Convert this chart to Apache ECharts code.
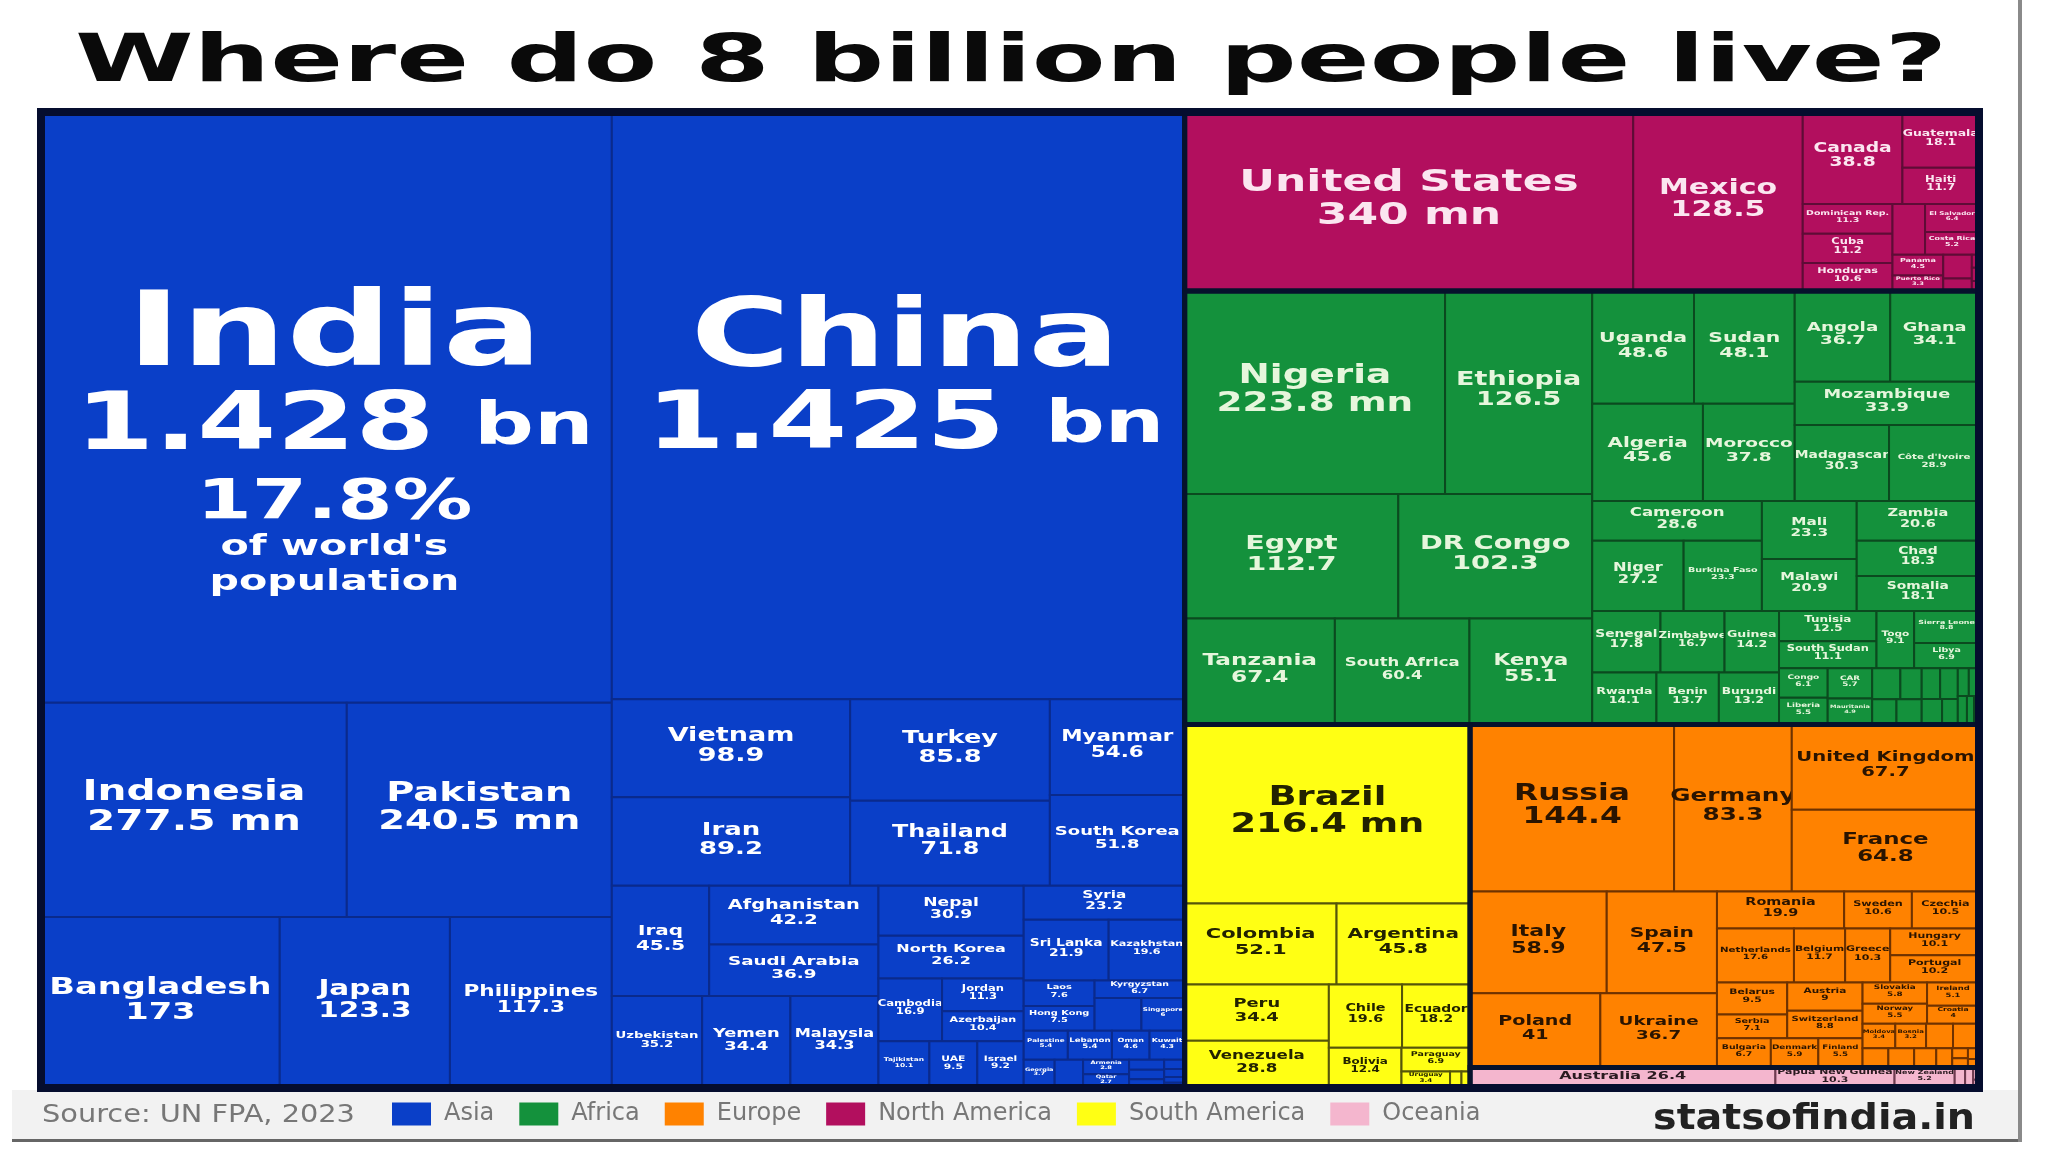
<!DOCTYPE html>
<html lang="en">
<head>
<meta charset="UTF-8">
<title>Where do 8 billion people live?</title>
<script src="https://cdn.jsdelivr.net/npm/echarts@6/dist/echarts.min.js"></script>
<style>
  html, body { margin: 0; background: #fff; }
  #chart { width: 2048px; height: 1152px; }
</style>
</head>
<body>
<div id="chart"></div>
<script>
// population in millions, nested by how the cells are cut: ['rows'|'cols', ...children]
const asia = ['cols',
  ['rows', ['India', 1428],
    ['cols', ['Indonesia', 277.5], ['Pakistan', 240.5]],
    ['cols', ['Bangladesh', 173], ['Japan', 123.3], ['Philippines', 117.3]]],
  ['rows', ['China', 1425],
    ['cols',
      ['rows', ['Vietnam', 98.9], ['Iran', 89.2]],
      ['rows', ['Turkey', 85.8], ['Thailand', 71.8]],
      ['rows', ['Myanmar', 54.6], ['South Korea', 51.8]]],
    ['cols',
      ['rows',
        ['cols', ['Iraq', 45.5], ['rows', ['Afghanistan', 42.2], ['Saudi Arabia', 36.9]]],
        ['cols', ['Uzbekistan', 35.2], ['Yemen', 34.4], ['Malaysia', 34.3]]],
      ['rows', ['Nepal', 30.9], ['North Korea', 26.2],
        ['cols', ['Cambodia', 16.9], ['rows', ['Jordan', 11.3], ['Azerbaijan', 10.4]]],
        ['cols', ['Tajikistan', 10.1], ['UAE', 9.5], ['Israel', 9.2]]],
      ['rows', ['Syria', 23.2],
        ['cols', ['Sri Lanka', 21.9], ['Kazakhstan', 19.6]],
        ['cols',
          ['rows', ['Laos', 7.6], ['Hong Kong', 7.5]],
          ['rows', ['Kyrgyzstan', 6.7], ['cols', ['Turkmenistan', 6.5], ['Singapore', 6]]]],
        ['cols', ['Palestine', 5.4], ['Lebanon', 5.4], ['Oman', 4.6], ['Kuwait', 4.3]],
        ['cols', ['Georgia', 3.7], ['Mongolia', 3.4],
          ['rows', ['Armenia', 2.8], ['Qatar', 2.7]],
          ['rows', ['Bahrain', 1.5], ['Timor-Leste', 1.4], ['Cyprus', 1.3]],
          ['rows', ['Bhutan', 0.8], ['Macao', 0.7], ['Maldives', 0.5], ['Brunei', 0.45]]]]]]]
;

const northAmerica = ['cols', ['United States', 340], ['Mexico', 128.5],
  ['rows',
    ['cols', ['Canada', 38.8], ['rows', ['Guatemala', 18.1], ['Haiti', 11.7]]],
    ['cols',
      ['rows', ['Dominican Rep.', 11.3], ['Cuba', 11.2], ['Honduras', 10.6]],
      ['rows',
        ['cols', ['Nicaragua', 7], ['rows', ['El Salvador', 6.4], ['Costa Rica', 5.2]]],
        ['cols', ['rows', ['Panama', 4.5], ['Puerto Rico', 3.3]],
          ['rows', ['Jamaica', 2.9], ['Trinidad', 1.5]],
          ['rows', ['Bahamas', 0.4], ['Belize', 0.4], ['Barbados', 0.3]]]]]]];

const africa = ['cols',
  ['rows',
    ['cols', ['Nigeria', 223.8], ['Ethiopia', 126.5]],
    ['cols', ['Egypt', 112.7], ['DR Congo', 102.3]],
    ['cols', ['Tanzania', 67.4], ['South Africa', 60.4], ['Kenya', 55.1]]],
  ['rows',
    ['cols',
      ['rows',
        ['cols', ['Uganda', 48.6], ['Sudan', 48.1]],
        ['cols', ['Algeria', 45.6], ['Morocco', 37.8]]],
      ['rows',
        ['cols', ['Angola', 36.7], ['Ghana', 34.1]],
        ['Mozambique', 33.9],
        ['cols', ['Madagascar', 30.3], ['Côte d\'Ivoire', 28.9]]]],
    ['cols',
      ['rows', ['Cameroon', 28.6], ['cols', ['Niger', 27.2], ['Burkina Faso', 23.3]]],
      ['rows', ['Mali', 23.3], ['Malawi', 20.9]],
      ['rows', ['Zambia', 20.6], ['Chad', 18.3], ['Somalia', 18.1]]],
    ['cols',
      ['rows',
        ['cols', ['Senegal', 17.8], ['Zimbabwe', 16.7], ['Guinea', 14.2]],
        ['cols', ['Rwanda', 14.1], ['Benin', 13.7], ['Burundi', 13.2]]],
      ['rows',
        ['cols',
          ['rows', ['Tunisia', 12.5], ['South Sudan', 11.1]],
          ['Togo', 9.1],
          ['rows', ['Sierra Leone', 8.8], ['Libya', 6.9]]],
        ['cols',
          ['rows', ['Congo', 6.1], ['Liberia', 5.5]],
          ['rows', ['CAR', 5.7], ['Mauritania', 4.9]],
          ['rows', ['cols', ['Eritrea', 3.7], ['Gambia', 2.8]], ['cols', ['Namibia', 2.6], ['Botswana', 2.7]]],
          ['rows', ['cols', ['Gabon', 2.4], ['Lesotho', 2.3]], ['cols', ['Guinea-Bissau', 2.2], ['Eq. Guinea', 1.7]]],
          ['rows', ['cols', ['Mauritius', 1.3], ['Eswatini', 1.2]], ['cols', ['Djibouti', 1.1], ['Comoros', 0.85], ['Cabo Verde', 0.6]]]]]]]];

const southAmerica = ['rows', ['Brazil', 216.4],
  ['cols', ['Colombia', 52.1], ['Argentina', 45.8]],
  ['cols',
    ['rows', ['Peru', 34.4], ['Venezuela', 28.8]],
    ['rows',
      ['cols', ['Chile', 19.6], ['Ecuador', 18.2]],
      ['cols', ['Bolivia', 12.4],
        ['rows', ['Paraguay', 6.9], ['cols', ['Uruguay', 3.4], ['Guyana', 0.8], ['Suriname', 0.6]]]]]]];

const europe = ['rows',
  ['cols', ['Russia', 144.4], ['Germany', 83.3], ['rows', ['United Kingdom', 67.7], ['France', 64.8]]],
  ['cols',
    ['rows',
      ['cols', ['Italy', 58.9], ['Spain', 47.5]],
      ['cols', ['Poland', 41], ['Ukraine', 36.7]]],
    ['rows',
      ['cols', ['Romania', 19.9], ['Sweden', 10.6], ['Czechia', 10.5]],
      ['cols', ['Netherlands', 17.6], ['Belgium', 11.7], ['Greece', 10.3], ['rows', ['Hungary', 10.1], ['Portugal', 10.2]]],
      ['cols',
        ['rows',
          ['cols', ['rows', ['Belarus', 9.5], ['Serbia', 7.1]], ['rows', ['Austria', 9], ['Switzerland', 8.8]]],
          ['cols', ['Bulgaria', 6.7], ['Denmark', 5.9], ['Finland', 5.5]]],
        ['rows',
          ['cols', ['rows', ['Slovakia', 5.8], ['Norway', 5.5]], ['rows', ['Ireland', 5.1], ['Croatia', 4]]],
          ['cols', ['Moldova', 3.4], ['Bosnia', 3.2], ['Albania', 2.8], ['Lithuania', 2.7]],
          ['cols', ['N. Macedonia', 2.1], ['Slovenia', 2.1], ['Latvia', 1.8], ['Estonia', 1.3],
            ['rows', ['Luxembourg', 0.65], ['Montenegro', 0.63]], ['rows', ['Malta', 0.5], ['Iceland', 0.4]]]]]]]];

const oceania = ['cols', ['Australia', 26.4], ['Papua New Guinea', 10.3], ['New Zealand', 5.2],
  ['Fiji', 0.9], ['Solomon Is.', 0.7], ['rows', ['Vanuatu', 0.3], ['Samoa', 0.2]]];

const world = ['cols', asia, ['rows', northAmerica, africa, ['cols', southAmerica, ['rows', europe, oceania]]]];

const continentNames = ['Asia', 'Africa', 'Europe', 'North America', 'South America', 'Oceania'];
const continentTrees = [asia, africa, europe, northAmerica, southAmerica, oceania];
const continentFill = ['#0a3fc8', '#14913c', '#ff8200', '#b20f5e', '#ffff14', '#f4b6ce'];
const continentLine = ['#0a2a8c', '#0b4a1f', '#6e3200', '#5e0c36', '#55550a', '#6e3a50'];
const continentText = ['#ffffff', '#e6f6dc', '#2a1400', '#fbe6f0', '#222200', '#2a1a20'];

// figures shown with a unit after them
const millionLabels = ['United States', 'Nigeria', 'Indonesia', 'Pakistan', 'Brazil'];
const billionLabels = { India: '1.428', China: '1.425' };

const FONT = 'DejaVu Sans';
const STRETCH = 1.42; // the picture is wider than the letters

const isLeaf = n => typeof n[1] === 'number';
const total = n => isLeaf(n) ? n[1] : n.slice(1).reduce((s, c) => s + total(c), 0);

// cut a box in proportion to the values, leaves end up in one list per continent
const boxes = new Map();
const rowsByContinent = new Map(continentTrees.map(t => [t, []]));
function place(node, box, rows) {
  boxes.set(node, box);
  rows = rowsByContinent.get(node) || rows;
  if (isLeaf(node)) {
    rows.push([box[0], box[1], box[2], box[3], node[0], node[1]]);
    return;
  }
  const sum = total(node);
  let pos = node[0] === 'cols' ? box[0] : box[1];
  const span = node[0] === 'cols' ? box[2] - box[0] : box[3] - box[1];
  node.slice(1).forEach(child => {
    const next = pos + span * total(child) / sum;
    place(child, node[0] === 'cols' ? [pos, box[1], next, box[3]] : [box[0], pos, box[2], next], rows);
    pos = next;
  });
}
place(world, [0, 0, 1, 1], []);

function cellBox(api, row) {
  const a = api.coord([row[0], row[1]]);
  const b = api.coord([row[2], row[3]]);
  return { x: a[0], y: a[1], width: b[0] - a[0], height: b[1] - a[1] };
}

function bigLabel(name, box, color) {
  const isIndia = name === 'India';
  const lines = ['{' + (isIndia ? 'india' : 'china') + '|' + name + '}', '{num|' + billionLabels[name] + ' }{unit|bn}'];
  if (isIndia) lines.push('{pct|17.8%}', '{note|of world\'s}', '{note|population}');
  const text = (fontSize, lineHeight) => ({ fontSize, lineHeight, fontWeight: 'bold', fill: color, fontFamily: FONT });
  return {
    type: 'text',
    x: box.x + box.width / 2 + (isIndia ? 8 : 7),
    y: box.y + box.height / 2 + (isIndia ? 41 : -16),
    scaleX: STRETCH,
    silent: true,
    style: {
      text: lines.join('\n'), align: 'center', verticalAlign: 'middle', fill: color,
      fontFamily: FONT,
      rich: {
        india: text(104, 83),
        china: text(95, 75),
        num: text(80, 97),
        unit: text(59, 97),
        pct: text(56, 53),
        note: text(29, 35)
      }
    }
  };
}

function cellLabel(row, box, color) {
  const name = row[4];
  const value = String(row[5]) + (millionLabels.includes(name) ? ' mn' : '');
  const oneLine = box.width > box.height * 6;
  const lines = oneLine ? [name + ' ' + value] : [name, value];
  const longest = Math.max(...lines.map(l => l.length));
  const size = Math.min(
    3.12 * Math.pow(row[5], 0.394),
    38,
    box.width * 0.94 / (longest * 0.64 * STRETCH),
    box.height * 0.8 / (lines.length * 1.05)
  );
  if (size < 4.5) return null;
  return {
    type: 'text',
    x: box.x + box.width / 2,
    y: box.y + box.height / 2 - 2,
    scaleX: STRETCH,
    silent: true,
    style: {
      text: lines.join('\n'), align: 'center', verticalAlign: 'middle', fill: color,
      fontFamily: FONT, fontWeight: 'bold', fontSize: size, lineHeight: size * 1.05
    }
  };
}

const cellSeries = continentNames.map((name, i) => {
  const rows = rowsByContinent.get(continentTrees[i]);
  return {
    name,
    type: 'custom',
    coordinateSystem: 'cartesian2d',
    itemStyle: { color: continentFill[i] },
    encode: { x: [0, 2], y: [1, 3] },
    data: rows.map(r => r.slice(0, 4)),
    renderItem(params, api) {
      const row = rows[params.dataIndex];
      const box = cellBox(api, row);
      const children = [{
        type: 'rect',
        shape: box,
        style: { fill: continentFill[i], stroke: continentLine[i], lineWidth: 2 }
      }];
      const label = billionLabels[row[4]] ? bigLabel(row[4], box, continentText[i]) : cellLabel(row, box, continentText[i]);
      if (label) children.push(label);
      return { type: 'group', children };
    }
  };
});

// thick dark outlines around each continent and the whole map
const frameBoxes = continentTrees.map(t => boxes.get(t)).concat([boxes.get(world)]);
const frameSeries = {
  type: 'custom',
  coordinateSystem: 'cartesian2d',
  silent: true,
  z: 5,
  encode: { x: [0, 2], y: [1, 3] },
  data: frameBoxes,
  renderItem(params, api) {
    const isWorld = params.dataIndex === frameBoxes.length - 1;
    return {
      type: 'rect',
      shape: cellBox(api, frameBoxes[params.dataIndex]),
      style: { fill: 'none', stroke: isWorld ? '#050d2e' : '#06122c', lineWidth: isWorld ? 8 : 5 }
    };
  }
};

const chart = echarts.init(document.getElementById('chart'));
chart.setOption({
  animation: false,
  backgroundColor: '#ffffff',
  grid: { left: 41, right: 69, top: 112, bottom: 64 },
  xAxis: { type: 'value', min: 0, max: 1, show: false },
  yAxis: { type: 'value', min: 0, max: 1, inverse: true, show: false },
  legend: {
    data: continentNames,
    left: 387,
    top: 1097,
    icon: 'rect',
    itemWidth: 39,
    itemHeight: 23,
    itemGap: 25,
    selectedMode: false,
    textStyle: { fontFamily: FONT, fontSize: 24, color: '#777777', padding: [0, 0, 0, 8] }
  },
  graphic: [
    { type: 'rect', z: -1, shape: { x: 12, y: 1090, width: 2006, height: 50 }, style: { fill: '#f2f2f2' } },
    { type: 'rect', z: -1, shape: { x: 12, y: 1139, width: 2006, height: 3 }, style: { fill: '#666666' } },
    { type: 'rect', z: -1, shape: { x: 2018, y: 0, width: 4, height: 1142 }, style: { fill: '#8a8a8a' } },
    {
      type: 'text', x: 1011, y: 64, scaleX: 1.63,
      style: { text: 'Where do 8 billion people live?', align: 'center', verticalAlign: 'middle', fill: '#0a0a0a',
        fontFamily: FONT, fontWeight: 'bold', fontSize: 66 }
    },
    {
      type: 'text', x: 42, y: 1116, scaleX: 1.2,
      style: { text: 'Source: UN FPA, 2023', verticalAlign: 'middle', fill: '#777777', fontFamily: FONT, fontSize: 24 }
    },
    {
      type: 'text', x: 1975, y: 1120, scaleX: 1.1,
      style: { text: 'statsofindia.in', align: 'right', verticalAlign: 'middle', fill: '#222222',
        fontFamily: FONT, fontWeight: 'bold', fontSize: 36 }
    }
  ],
  series: cellSeries.concat(frameSeries)
});
</script>
</body>
</html>
